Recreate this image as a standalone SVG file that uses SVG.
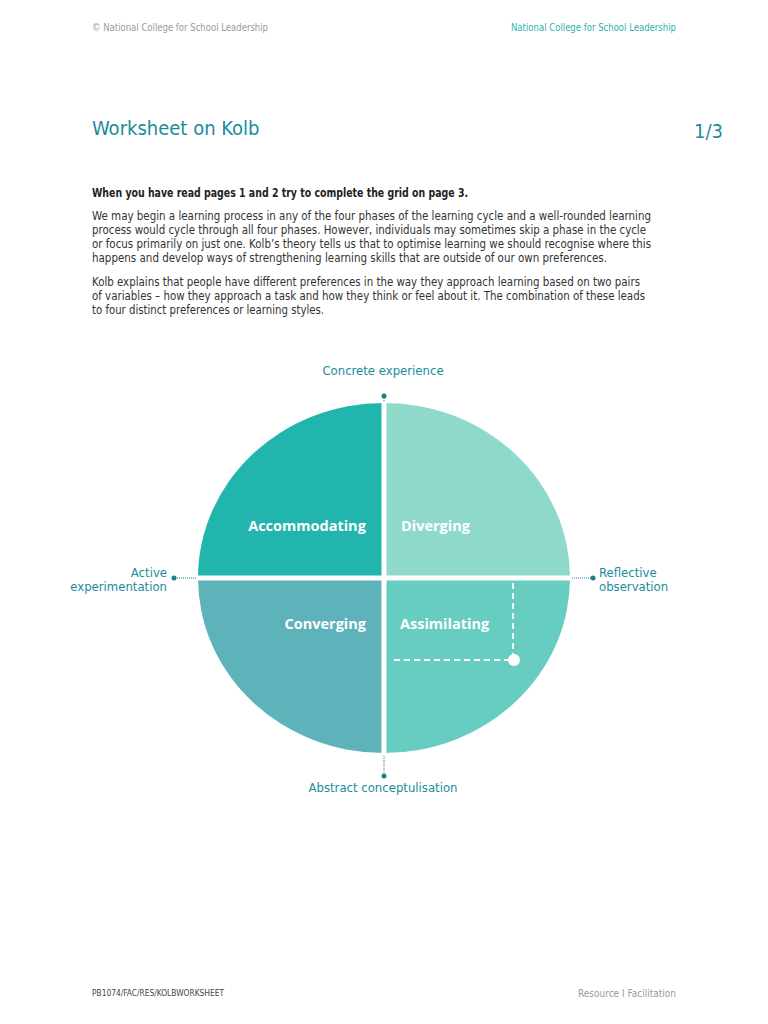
<svg xmlns="http://www.w3.org/2000/svg" width="768" height="1024" viewBox="0 0 768 1024">
<style>
text{font-family:"Liberation Sans Narrow","DejaVu Sans Condensed","Liberation Sans",sans-serif}
.hdr{font-size:10px;fill:#9a9a9a}
.hdr2{font-size:10px;fill:#2fb3b0}
.title{font-size:20px;fill:#1a8c9c}
.body{font-size:12px;fill:#333}
.bold{font-size:12px;fill:#222;font-weight:bold}
.axis{font-size:13px;fill:#1a8c9c}
.q{font-size:14.5px;fill:#fff;font-weight:bold;font-family:"Open Sans","DejaVu Sans",sans-serif}
.ft{font-size:8px;fill:#444}
.ft2{font-size:10px;fill:#9a9a9a}
.dot{fill:#1a7f8f}
.dotline{stroke:#1a7f8f;stroke-width:1;stroke-dasharray:1 1;fill:none}
</style>
<rect width="768" height="1024" fill="#fff"/>
<text class="hdr" x="92" y="31" textLength="176" lengthAdjust="spacingAndGlyphs">© National College for School Leadership</text>
<text class="hdr2" x="511" y="31" textLength="165" lengthAdjust="spacingAndGlyphs">National College for School Leadership</text>
<text class="title" x="92" y="135">Worksheet on Kolb</text>
<text class="title" x="723" y="138" text-anchor="end">1/3</text>
<text class="bold" x="92" y="197" textLength="376" lengthAdjust="spacingAndGlyphs">When you have read pages 1 and 2 try to complete the grid on page 3.</text>
<text class="body" x="92" y="220" textLength="559" lengthAdjust="spacingAndGlyphs">We may begin a learning process in any of the four phases of the learning cycle and a well-rounded learning</text>
<text class="body" x="92" y="234" textLength="554" lengthAdjust="spacingAndGlyphs">process would cycle through all four phases. However, individuals may sometimes skip a phase in the cycle</text>
<text class="body" x="92" y="248" textLength="559" lengthAdjust="spacingAndGlyphs">or focus primarily on just one. Kolb’s theory tells us that to optimise learning we should recognise where this</text>
<text class="body" x="92" y="262" textLength="515" lengthAdjust="spacingAndGlyphs">happens and develop ways of strengthening learning skills that are outside of our own preferences.</text>
<text class="body" x="92" y="286" textLength="548" lengthAdjust="spacingAndGlyphs">Kolb explains that people have different preferences in the way they approach learning based on two pairs</text>
<text class="body" x="92" y="300" textLength="553" lengthAdjust="spacingAndGlyphs">of variables – how they approach a task and how they think or feel about it. The combination of these leads</text>
<text class="body" x="92" y="314" textLength="232" lengthAdjust="spacingAndGlyphs">to four distinct preferences or learning styles.</text>

<g id="accommodating">
<path d="M384,578 L384,403 A186,175 0 0 0 198,578 Z" fill="#22b5ad"/>
<text class="q" x="307" y="531" text-anchor="middle">Accommodating</text>
</g>
<g id="diverging">
<path d="M384,578 L384,403 A186,175 0 0 1 570,578 Z" fill="#8fd9cb"/>
<text class="q" x="401" y="531">Diverging</text>
</g>
<g id="converging">
<path d="M384,578 L384,753 A186,175 0 0 1 198,578 Z" fill="#5db3b9"/>
<text class="q" x="366" y="629" text-anchor="end">Converging</text>
</g>
<g id="assimilating">
<path d="M384,578 L570,578 A186,175 0 0 1 384,753 Z" fill="#66cdc0"/>
<text class="q" x="400" y="629">Assimilating</text>
<path d="M513,583 L513,660 L390,660" fill="none" stroke="#fff" stroke-width="1.8" stroke-dasharray="6 4"/>
<circle cx="514" cy="660" r="6" fill="#fff"/>
</g>
<g id="dividers">
<line x1="384" y1="402" x2="384" y2="754" stroke="#fff" stroke-width="5"/>
<line x1="197" y1="578" x2="571" y2="578" stroke="#fff" stroke-width="5"/>
</g>

<g id="connectors">
<line class="dotline" x1="384" y1="398" x2="384" y2="402"/>
<line class="dotline" x1="384" y1="756" x2="384" y2="775"/>
<line class="dotline" x1="175" y1="578" x2="197" y2="578"/>
<line class="dotline" x1="572" y1="578" x2="592" y2="578"/>
<circle class="dot" cx="384" cy="396" r="2.5"/>
<circle class="dot" cx="384" cy="776" r="2.5"/>
<circle class="dot" cx="174" cy="578" r="2.5"/>
<circle class="dot" cx="593" cy="578" r="2.5"/>
</g>

<g id="concrete-experience"><text class="axis" x="383" y="375" text-anchor="middle">Concrete experience</text></g>
<g id="active-experimentation"><text class="axis" x="167" y="577" text-anchor="end">Active</text><text class="axis" x="167" y="591" text-anchor="end">experimentation</text></g>
<g id="reflective-observation"><text class="axis" x="599" y="577">Reflective</text><text class="axis" x="599" y="591">observation</text></g>
<g id="abstract-conceptulisation"><text class="axis" x="383" y="792" text-anchor="middle">Abstract conceptulisation</text></g>

<text class="ft" x="92" y="996" textLength="132" lengthAdjust="spacingAndGlyphs">PB1074/FAC/RES/KOLBWORKSHEET</text>
<text class="ft2" x="676" y="997" text-anchor="end">Resource I Facilitation</text>
</svg>
